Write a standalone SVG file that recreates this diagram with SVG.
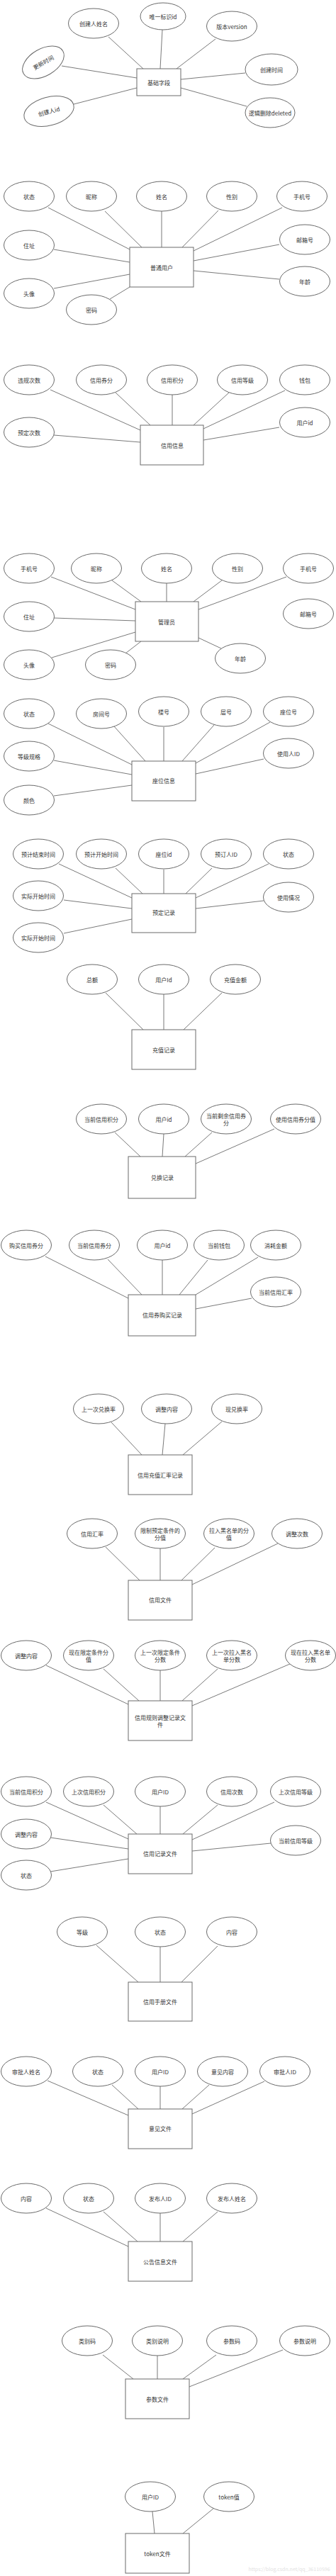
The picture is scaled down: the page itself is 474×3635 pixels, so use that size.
<svg xmlns="http://www.w3.org/2000/svg" width="474" height="3635" viewBox="0 0 474 3635">
<style>
.a{fill:#fff;stroke:#6a6a6a;stroke-width:1}
.r{fill:#fff;stroke:#6a6a6a;stroke-width:1}
.c line{stroke:#6a6a6a;stroke-width:0.9}
text{font-family:"Noto Sans CJK SC","Liberation Sans",sans-serif;font-size:8px;fill:#333;text-anchor:middle;dominant-baseline:central}
.wm{fill:#e2e2e2;font-size:7px}
</style>
<rect width="474" height="3635" fill="#fff"/>
<g class="c" id="connectors">
<line x1="153" y1="52" x2="202" y2="97"/><line x1="229" y1="42" x2="226" y2="97"/><line x1="304" y1="55" x2="249" y2="97"/><line x1="87" y1="93" x2="193" y2="110"/><line x1="104" y1="147" x2="193" y2="124"/><line x1="346" y1="103" x2="255" y2="112"/><line x1="348" y1="150" x2="255" y2="124"/>
<line x1="68" y1="293" x2="183" y2="352"/><line x1="148" y1="298" x2="200" y2="349"/><line x1="228" y1="298" x2="228" y2="349"/><line x1="308" y1="297" x2="257" y2="349"/><line x1="398" y1="293" x2="273" y2="354"/><line x1="76" y1="352" x2="183" y2="370"/><line x1="76" y1="407" x2="183" y2="387"/><line x1="155" y1="422" x2="183" y2="405"/><line x1="394" y1="345" x2="273" y2="368"/><line x1="394" y1="394" x2="273" y2="382"/>
<line x1="71" y1="550" x2="198" y2="607"/><line x1="163" y1="554" x2="212" y2="600"/><line x1="243" y1="557" x2="243" y2="600"/><line x1="323" y1="554" x2="273" y2="600"/><line x1="402" y1="551" x2="287" y2="605"/><line x1="394" y1="603" x2="287" y2="621"/><line x1="76" y1="614" x2="198" y2="624"/>
<line x1="72" y1="814" x2="191" y2="860"/><line x1="158" y1="819" x2="199" y2="849"/><line x1="235" y1="823" x2="235" y2="849"/><line x1="313" y1="819" x2="273" y2="849"/><line x1="404" y1="814" x2="280" y2="860"/><line x1="76" y1="872" x2="191" y2="876"/><line x1="73" y1="928" x2="191" y2="892"/><line x1="177" y1="922" x2="199" y2="905"/><line x1="312" y1="915" x2="280" y2="900"/>
<line x1="68" y1="1021" x2="186" y2="1079"/><line x1="161" y1="1025" x2="205" y2="1074"/><line x1="231" y1="1026" x2="231" y2="1074"/><line x1="302" y1="1023" x2="257" y2="1074"/><line x1="381" y1="1019" x2="276" y2="1077"/><line x1="76" y1="1073" x2="186" y2="1093"/><line x1="372" y1="1071" x2="276" y2="1092"/><line x1="76" y1="1123" x2="186" y2="1108"/>
<line x1="83" y1="1219" x2="186" y2="1267"/><line x1="163" y1="1225" x2="201" y2="1261"/><line x1="231" y1="1227" x2="231" y2="1261"/><line x1="299" y1="1225" x2="262" y2="1261"/><line x1="379" y1="1219" x2="276" y2="1267"/><line x1="90" y1="1270" x2="186" y2="1282"/><line x1="372" y1="1271" x2="276" y2="1282"/><line x1="90" y1="1317" x2="186" y2="1297"/>
<line x1="149" y1="1401" x2="202" y2="1453"/><line x1="231" y1="1403" x2="231" y2="1453"/><line x1="313" y1="1401" x2="259" y2="1453"/>
<line x1="162" y1="1598" x2="198" y2="1632"/><line x1="231" y1="1600" x2="229" y2="1632"/><line x1="299" y1="1598" x2="261" y2="1632"/><line x1="387" y1="1593" x2="276" y2="1642"/>
<line x1="64" y1="1773" x2="181" y2="1832"/><line x1="152" y1="1777" x2="200" y2="1827"/><line x1="229" y1="1778" x2="229" y2="1827"/><line x1="293" y1="1778" x2="253" y2="1827"/><line x1="364" y1="1774" x2="276" y2="1827"/><line x1="355" y1="1832" x2="276" y2="1847"/>
<line x1="157" y1="2007" x2="200" y2="2053"/><line x1="233" y1="2009" x2="229" y2="2053"/><line x1="313" y1="2006" x2="258" y2="2053"/>
<line x1="149" y1="2183" x2="197" y2="2230"/><line x1="226" y1="2185" x2="226" y2="2230"/><line x1="303" y1="2184" x2="256" y2="2230"/><line x1="392" y1="2178" x2="271" y2="2236"/>
<line x1="65" y1="2350" x2="181" y2="2405"/><line x1="146" y1="2355" x2="196" y2="2400"/><line x1="226" y1="2357" x2="226" y2="2400"/><line x1="307" y1="2355" x2="257" y2="2400"/><line x1="409" y1="2348" x2="271" y2="2407"/>
<line x1="65" y1="2543" x2="181" y2="2595"/><line x1="146" y1="2547" x2="193" y2="2588"/><line x1="226" y1="2549" x2="226" y2="2588"/><line x1="307" y1="2547" x2="258" y2="2588"/><line x1="387" y1="2543" x2="271" y2="2596"/><line x1="71" y1="2593" x2="181" y2="2609"/><line x1="382" y1="2601" x2="271" y2="2612"/><line x1="71" y1="2641" x2="181" y2="2623"/>
<line x1="136" y1="2745" x2="195" y2="2797"/><line x1="226" y1="2747" x2="226" y2="2797"/><line x1="307" y1="2746" x2="256" y2="2797"/>
<line x1="67" y1="2936" x2="181" y2="2985"/><line x1="158" y1="2942" x2="195" y2="2976"/><line x1="226" y1="2944" x2="226" y2="2976"/><line x1="295" y1="2942" x2="257" y2="2976"/><line x1="373" y1="2937" x2="271" y2="2983"/>
<line x1="65" y1="3116" x2="181" y2="3170"/><line x1="146" y1="3121" x2="194" y2="3163"/><line x1="226" y1="3123" x2="226" y2="3163"/><line x1="307" y1="3121" x2="258" y2="3163"/>
<line x1="145" y1="3323" x2="188" y2="3357"/><line x1="222" y1="3324" x2="222" y2="3357"/><line x1="305" y1="3323" x2="258" y2="3357"/><line x1="399" y1="3316" x2="267" y2="3368"/>
<line x1="215" y1="3544" x2="218" y2="3575"/><line x1="302" y1="3539" x2="258" y2="3575"/>
</g>
<g id="n1"><rect class="r" x="193" y="97" width="62" height="38"/><text x="224" y="116">基础字段</text></g>
<g id="n1a"><ellipse class="a" cx="132" cy="33" rx="35.5" ry="21"/><text x="132" y="33">创建人姓名</text></g>
<g id="n1b"><ellipse class="a" cx="230" cy="23" rx="32" ry="19"/><text x="230" y="23">唯一标识id</text></g>
<g id="n1c"><ellipse class="a" cx="327" cy="37" rx="35.5" ry="21"/><text x="327" y="37">版本version</text></g>
<g id="n1d" transform="rotate(-30 61 88)"><ellipse class="a" cx="61" cy="88" rx="32" ry="19"/><text x="61" y="88">更新时间</text></g>
<g id="n1e" transform="rotate(-15 69 157)"><ellipse class="a" cx="69" cy="157" rx="36" ry="20"/><text x="69" y="157">创建人id</text></g>
<g id="n1f"><ellipse class="a" cx="383" cy="98" rx="37" ry="22"/><text x="383" y="98">创建时间</text></g>
<g id="n1g"><ellipse class="a" cx="381" cy="159" rx="35" ry="21"/><text x="381" y="159">逻辑删除deleted</text></g>

<g id="n2"><rect class="r" x="183" y="349" width="90" height="56"/><text x="228" y="377">普通用户</text></g>
<g id="n2a"><ellipse class="a" cx="41" cy="277" rx="35.5" ry="21"/><text x="41" y="277">状态</text></g>
<g id="n2b"><ellipse class="a" cx="129" cy="277" rx="35.5" ry="21"/><text x="129" y="277">昵称</text></g>
<g id="n2c"><ellipse class="a" cx="228" cy="277" rx="35.5" ry="21"/><text x="228" y="277">姓名</text></g>
<g id="n2d"><ellipse class="a" cx="327" cy="277" rx="35.5" ry="21"/><text x="327" y="277">性别</text></g>
<g id="n2e"><ellipse class="a" cx="426" cy="277" rx="35.5" ry="21"/><text x="426" y="277">手机号</text></g>
<g id="n2f"><ellipse class="a" cx="41" cy="346" rx="35.5" ry="21"/><text x="41" y="346">住址</text></g>
<g id="n2g"><ellipse class="a" cx="41" cy="414" rx="35.5" ry="21"/><text x="41" y="414">头像</text></g>
<g id="n2h"><ellipse class="a" cx="129" cy="437" rx="35.5" ry="21"/><text x="129" y="437">密码</text></g>
<g id="n2i"><ellipse class="a" cx="430" cy="338" rx="35.5" ry="21"/><text x="430" y="338">邮箱号</text></g>
<g id="n2j"><ellipse class="a" cx="430" cy="397" rx="35.5" ry="21"/><text x="430" y="397">年龄</text></g>

<g id="n3"><rect class="r" x="198" y="600" width="89" height="56"/><text x="243" y="628">信用信息</text></g>
<g id="n3a"><ellipse class="a" cx="41" cy="536" rx="35.5" ry="21"/><text x="41" y="536">违规次数</text></g>
<g id="n3b"><ellipse class="a" cx="143" cy="536" rx="35.5" ry="21"/><text x="143" y="536">信用券分</text></g>
<g id="n3c"><ellipse class="a" cx="243" cy="536" rx="35.5" ry="21"/><text x="243" y="536">信用积分</text></g>
<g id="n3d"><ellipse class="a" cx="342" cy="536" rx="35.5" ry="21"/><text x="342" y="536">信用等级</text></g>
<g id="n3e"><ellipse class="a" cx="430" cy="536" rx="35.5" ry="21"/><text x="430" y="536">钱包</text></g>
<g id="n3f"><ellipse class="a" cx="430" cy="596" rx="35.5" ry="21"/><text x="430" y="596">用户id</text></g>
<g id="n3g"><ellipse class="a" cx="41" cy="610" rx="35.5" ry="21"/><text x="41" y="610">预定次数</text></g>

<g id="n4"><rect class="r" x="191" y="849" width="89" height="56"/><text x="235" y="877">管理员</text></g>
<g id="n4a"><ellipse class="a" cx="41" cy="802" rx="35.5" ry="21"/><text x="41" y="802">手机号</text></g>
<g id="n4b"><ellipse class="a" cx="136" cy="802" rx="35.5" ry="21"/><text x="136" y="802">昵称</text></g>
<g id="n4c"><ellipse class="a" cx="235" cy="802" rx="35.5" ry="21"/><text x="235" y="802">姓名</text></g>
<g id="n4d"><ellipse class="a" cx="335" cy="802" rx="35.5" ry="21"/><text x="335" y="802">性别</text></g>
<g id="n4e"><ellipse class="a" cx="435" cy="802" rx="35.5" ry="21"/><text x="435" y="802">手机号</text></g>
<g id="n4f"><ellipse class="a" cx="41" cy="870" rx="35.5" ry="21"/><text x="41" y="870">住址</text></g>
<g id="n4g"><ellipse class="a" cx="435" cy="866" rx="35.5" ry="21"/><text x="435" y="866">邮箱号</text></g>
<g id="n4h"><ellipse class="a" cx="41" cy="938" rx="35.5" ry="21"/><text x="41" y="938">头像</text></g>
<g id="n4i"><ellipse class="a" cx="156" cy="938" rx="35.5" ry="21"/><text x="156" y="938">密码</text></g>
<g id="n4j"><ellipse class="a" cx="339" cy="929" rx="35.5" ry="21"/><text x="339" y="929">年龄</text></g>

<g id="n5"><rect class="r" x="186" y="1074" width="90" height="56"/><text x="231" y="1101">座位信息</text></g>
<g id="n5a"><ellipse class="a" cx="41" cy="1007" rx="35.5" ry="21"/><text x="41" y="1007">状态</text></g>
<g id="n5b"><ellipse class="a" cx="143" cy="1007" rx="35.5" ry="21"/><text x="143" y="1007">房间号</text></g>
<g id="n5c"><ellipse class="a" cx="231" cy="1004" rx="35.5" ry="21"/><text x="231" y="1004">楼号</text></g>
<g id="n5d"><ellipse class="a" cx="319" cy="1004" rx="35.5" ry="21"/><text x="319" y="1004">层号</text></g>
<g id="n5e"><ellipse class="a" cx="407" cy="1004" rx="35.5" ry="21"/><text x="407" y="1004">座位号</text></g>
<g id="n5f"><ellipse class="a" cx="41" cy="1067" rx="35.5" ry="21"/><text x="41" y="1067">等级规格</text></g>
<g id="n5g"><ellipse class="a" cx="407" cy="1063" rx="35.5" ry="21"/><text x="407" y="1063">使用人ID</text></g>
<g id="n5h"><ellipse class="a" cx="41" cy="1129" rx="35.5" ry="21"/><text x="41" y="1129">颜色</text></g>

<g id="n6"><rect class="r" x="186" y="1261" width="90" height="55"/><text x="231" y="1287">预定记录</text></g>
<g id="n6a"><ellipse class="a" cx="54" cy="1205" rx="35.5" ry="21"/><text x="54" y="1205">预计结束时间</text></g>
<g id="n6b"><ellipse class="a" cx="143" cy="1205" rx="35.5" ry="21"/><text x="143" y="1205">预计开始时间</text></g>
<g id="n6c"><ellipse class="a" cx="231" cy="1205" rx="35.5" ry="21"/><text x="231" y="1205">座位id</text></g>
<g id="n6d"><ellipse class="a" cx="319" cy="1205" rx="35.5" ry="21"/><text x="319" y="1205">预订人ID</text></g>
<g id="n6e"><ellipse class="a" cx="407" cy="1205" rx="35.5" ry="21"/><text x="407" y="1205">状态</text></g>
<g id="n6f"><ellipse class="a" cx="54" cy="1264" rx="35.5" ry="21"/><text x="54" y="1264">实际开始时间</text></g>
<g id="n6g"><ellipse class="a" cx="407" cy="1266" rx="35.5" ry="21"/><text x="407" y="1266">使用情况</text></g>
<g id="n6h"><ellipse class="a" cx="54" cy="1323" rx="35.5" ry="21"/><text x="54" y="1323">实际开始时间</text></g>

<g id="n7"><rect class="r" x="186" y="1453" width="90" height="56"/><text x="231" y="1481">充值记录</text></g>
<g id="n7a"><ellipse class="a" cx="130" cy="1382" rx="35.5" ry="21"/><text x="130" y="1382">总额</text></g>
<g id="n7b"><ellipse class="a" cx="231" cy="1382" rx="35.5" ry="21"/><text x="231" y="1382">用户Id</text></g>
<g id="n7c"><ellipse class="a" cx="332" cy="1382" rx="35.5" ry="21"/><text x="332" y="1382">充值金额</text></g>

<g id="n8"><rect class="r" x="181" y="1632" width="95" height="59"/><text x="229" y="1661">兑换记录</text></g>
<g id="n8a"><ellipse class="a" cx="143" cy="1579" rx="35.5" ry="21"/><text x="143" y="1579">当前信用积分</text></g>
<g id="n8b"><ellipse class="a" cx="231" cy="1579" rx="35.5" ry="21"/><text x="231" y="1579">用户id</text></g>
<g id="n8c"><ellipse class="a" cx="319" cy="1579" rx="35.5" ry="21"/><text x="319" y="1574">当前剩余信用券<tspan x="319" dy="10">分</tspan></text></g>
<g id="n8d"><ellipse class="a" cx="417" cy="1579" rx="35.5" ry="21"/><text x="417" y="1579">使用信用券分值</text></g>

<g id="n9"><rect class="r" x="181" y="1827" width="95" height="58"/><text x="229" y="1855">信用券购买记录</text></g>
<g id="n9a"><ellipse class="a" cx="37" cy="1757" rx="35.5" ry="21"/><text x="37" y="1757">购买信用券分</text></g>
<g id="n9b"><ellipse class="a" cx="133" cy="1757" rx="35.5" ry="21"/><text x="133" y="1757">当前信用券分</text></g>
<g id="n9c"><ellipse class="a" cx="229" cy="1757" rx="35.5" ry="21"/><text x="229" y="1757">用户id</text></g>
<g id="n9d"><ellipse class="a" cx="309" cy="1757" rx="35.5" ry="21"/><text x="309" y="1757">当前钱包</text></g>
<g id="n9e"><ellipse class="a" cx="389" cy="1757" rx="35.5" ry="21"/><text x="389" y="1757">消耗金额</text></g>
<g id="n9f"><ellipse class="a" cx="389" cy="1823" rx="35.5" ry="21"/><text x="389" y="1823">当前信用汇率</text></g>

<g id="n10"><rect class="r" x="181" y="2053" width="90" height="56"/><text x="226" y="2081">信用充值汇率记录</text></g>
<g id="n10a"><ellipse class="a" cx="139" cy="1988" rx="35.5" ry="21"/><text x="139" y="1988">上一次兑换率</text></g>
<g id="n10b"><ellipse class="a" cx="235" cy="1988" rx="35.5" ry="21"/><text x="235" y="1988">调整内容</text></g>
<g id="n10c"><ellipse class="a" cx="334" cy="1988" rx="35.5" ry="21"/><text x="334" y="1988">现兑换率</text></g>

<g id="n11"><rect class="r" x="181" y="2230" width="90" height="56"/><text x="226" y="2257">信用文件</text></g>
<g id="n11a"><ellipse class="a" cx="130" cy="2164" rx="35.5" ry="21"/><text x="130" y="2164">信用汇率</text></g>
<g id="n11b"><ellipse class="a" cx="226" cy="2164" rx="35.5" ry="21"/><text x="226" y="2159">限制预定条件的<tspan x="226" dy="10">分值</tspan></text></g>
<g id="n11c"><ellipse class="a" cx="323" cy="2164" rx="35.5" ry="21"/><text x="323" y="2159">拉入黑名单的分<tspan x="323" dy="10">值</tspan></text></g>
<g id="n11d"><ellipse class="a" cx="419" cy="2164" rx="35.5" ry="21"/><text x="419" y="2164">调整次数</text></g>

<g id="n12"><rect class="r" x="181" y="2400" width="90" height="56"/><text x="226" y="2423">信用规则调整记录文<tspan x="226" dy="9.5">件</tspan></text></g>
<g id="n12a"><ellipse class="a" cx="37" cy="2336" rx="35.5" ry="21"/><text x="37" y="2336">调整内容</text></g>
<g id="n12b"><ellipse class="a" cx="125" cy="2336" rx="35.5" ry="21"/><text x="125" y="2331">现在限定条件分<tspan x="125" dy="10">值</tspan></text></g>
<g id="n12c"><ellipse class="a" cx="226" cy="2336" rx="35.5" ry="21"/><text x="226" y="2331">上一次限定条件<tspan x="226" dy="10">分数</tspan></text></g>
<g id="n12d"><ellipse class="a" cx="327" cy="2336" rx="35.5" ry="21"/><text x="327" y="2331">上一次拉入黑名<tspan x="327" dy="10">单分数</tspan></text></g>
<g id="n12e"><ellipse class="a" cx="438" cy="2336" rx="35.5" ry="21"/><text x="438" y="2331">现在拉入黑名单<tspan x="438" dy="10">分数</tspan></text></g>

<g id="n13"><rect class="r" x="181" y="2588" width="90" height="56"/><text x="226" y="2615">信用记录文件</text></g>
<g id="n13a"><ellipse class="a" cx="37" cy="2528" rx="35.5" ry="21"/><text x="37" y="2528">当前信用积分</text></g>
<g id="n13b"><ellipse class="a" cx="125" cy="2528" rx="35.5" ry="21"/><text x="125" y="2528">上次信用积分</text></g>
<g id="n13c"><ellipse class="a" cx="226" cy="2528" rx="35.5" ry="21"/><text x="226" y="2528">用户ID</text></g>
<g id="n13d"><ellipse class="a" cx="327" cy="2528" rx="35.5" ry="21"/><text x="327" y="2528">信用次数</text></g>
<g id="n13e"><ellipse class="a" cx="417" cy="2528" rx="35.5" ry="21"/><text x="417" y="2528">上次信用等级</text></g>
<g id="n13f"><ellipse class="a" cx="37" cy="2588" rx="35.5" ry="21"/><text x="37" y="2588">调整内容</text></g>
<g id="n13g"><ellipse class="a" cx="417" cy="2597" rx="35.5" ry="21"/><text x="417" y="2597">当前信用等级</text></g>
<g id="n13h"><ellipse class="a" cx="37" cy="2646" rx="35.5" ry="21"/><text x="37" y="2646">状态</text></g>

<g id="n14"><rect class="r" x="181" y="2797" width="90" height="55"/><text x="226" y="2824">信用手册文件</text></g>
<g id="n14a"><ellipse class="a" cx="116" cy="2726" rx="35.5" ry="21"/><text x="116" y="2726">等级</text></g>
<g id="n14b"><ellipse class="a" cx="226" cy="2726" rx="35.5" ry="21"/><text x="226" y="2726">状态</text></g>
<g id="n14c"><ellipse class="a" cx="327" cy="2726" rx="35.5" ry="21"/><text x="327" y="2726">内容</text></g>

<g id="n15"><rect class="r" x="181" y="2976" width="90" height="56"/><text x="226" y="3003">意见文件</text></g>
<g id="n15a"><ellipse class="a" cx="37" cy="2923" rx="35.5" ry="21"/><text x="37" y="2923">审批人姓名</text></g>
<g id="n15b"><ellipse class="a" cx="138" cy="2923" rx="35.5" ry="21"/><text x="138" y="2923">状态</text></g>
<g id="n15c"><ellipse class="a" cx="226" cy="2923" rx="35.5" ry="21"/><text x="226" y="2923">用户ID</text></g>
<g id="n15d"><ellipse class="a" cx="314" cy="2923" rx="35.5" ry="21"/><text x="314" y="2923">意见内容</text></g>
<g id="n15e"><ellipse class="a" cx="402" cy="2923" rx="35.5" ry="21"/><text x="402" y="2923">审批人ID</text></g>

<g id="n16"><rect class="r" x="181" y="3163" width="90" height="56"/><text x="226" y="3191">公告信息文件</text></g>
<g id="n16a"><ellipse class="a" cx="37" cy="3102" rx="35.5" ry="21"/><text x="37" y="3102">内容</text></g>
<g id="n16b"><ellipse class="a" cx="125" cy="3102" rx="35.5" ry="21"/><text x="125" y="3102">状态</text></g>
<g id="n16c"><ellipse class="a" cx="226" cy="3102" rx="35.5" ry="21"/><text x="226" y="3102">发布人ID</text></g>
<g id="n16d"><ellipse class="a" cx="327" cy="3102" rx="35.5" ry="21"/><text x="327" y="3102">发布人姓名</text></g>

<g id="n17"><rect class="r" x="177" y="3357" width="90" height="56"/><text x="222" y="3385">参数文件</text></g>
<g id="n17a"><ellipse class="a" cx="123" cy="3303" rx="35.5" ry="21"/><text x="123" y="3303">类别码</text></g>
<g id="n17b"><ellipse class="a" cx="222" cy="3303" rx="35.5" ry="21"/><text x="222" y="3303">类别说明</text></g>
<g id="n17c"><ellipse class="a" cx="327" cy="3303" rx="35.5" ry="21"/><text x="327" y="3303">参数码</text></g>
<g id="n17d"><ellipse class="a" cx="430" cy="3303" rx="35.5" ry="21"/><text x="430" y="3303">参数说明</text></g>

<g id="n18"><rect class="r" x="177" y="3575" width="90" height="56"/><text x="222" y="3603">token文件</text></g>
<g id="n18a"><ellipse class="a" cx="212" cy="3523" rx="35.5" ry="21"/><text x="212" y="3523">用户ID</text></g>
<g id="n18b"><ellipse class="a" cx="323" cy="3523" rx="35.5" ry="21"/><text x="323" y="3523">token值</text></g>

<text class="wm" x="408" y="3625">https://blog.csdn.net/qq_36110596</text>
</svg>
